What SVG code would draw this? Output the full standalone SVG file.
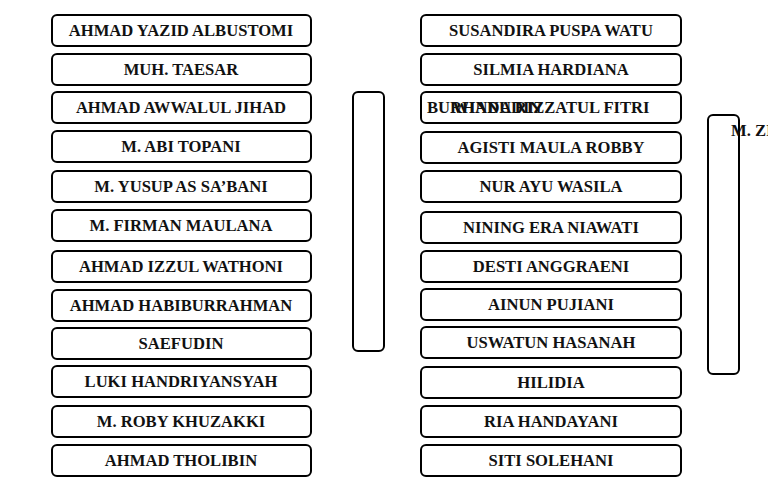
<svg xmlns="http://www.w3.org/2000/svg" width="768" height="503" viewBox="0 0 768 503">
<style>
.b{fill:#fff;stroke:#000;stroke-width:2}
.t{font-family:"Liberation Serif","Times New Roman",serif;font-weight:bold;font-size:16.6px;fill:#111;text-anchor:middle}
.l{text-anchor:start}
</style>
<rect width="768" height="503" fill="#fff"/>
<g id="left">
<g id="n1"><rect class="b" x="52" y="15" width="259" height="31" rx="5"/><text class="t" x="181" y="36">AHMAD YAZID ALBUSTOMI</text></g>
<g id="n2"><rect class="b" x="52" y="54" width="259" height="31" rx="5"/><text class="t" x="181" y="75">MUH. TAESAR</text></g>
<g id="n3"><rect class="b" x="52" y="92" width="259" height="31" rx="5"/><text class="t" x="181" y="113">AHMAD AWWALUL JIHAD</text></g>
<g id="n4"><rect class="b" x="52" y="131" width="259" height="31" rx="5"/><text class="t" x="181" y="152">M. ABI TOPANI</text></g>
<g id="n5"><rect class="b" x="52" y="171" width="259" height="31" rx="5"/><text class="t" x="181" y="192">M. YUSUP AS SA’BANI</text></g>
<g id="n6"><rect class="b" x="52" y="210" width="259" height="31" rx="5"/><text class="t" x="181" y="231">M. FIRMAN MAULANA</text></g>
<g id="n7"><rect class="b" x="52" y="251" width="259" height="31" rx="5"/><text class="t" x="181" y="272">AHMAD IZZUL WATHONI</text></g>
<g id="n8"><rect class="b" x="52" y="290" width="259" height="31" rx="5"/><text class="t" x="181" y="311">AHMAD HABIBURRAHMAN</text></g>
<g id="n9"><rect class="b" x="52" y="328" width="259" height="31" rx="5"/><text class="t" x="181" y="349">SAEFUDIN</text></g>
<g id="n10"><rect class="b" x="52" y="366" width="259" height="31" rx="5"/><text class="t" x="181" y="387">LUKI HANDRIYANSYAH</text></g>
<g id="n11"><rect class="b" x="52" y="406" width="259" height="31" rx="5"/><text class="t" x="181" y="427">M. ROBY KHUZAKKI</text></g>
<g id="n12"><rect class="b" x="52" y="445" width="259" height="31" rx="5"/><text class="t" x="181" y="466">AHMAD THOLIBIN</text></g>
</g>
<g id="vbox1"><rect class="b" x="353" y="92" width="31" height="259" rx="5"/></g>
<g id="right">
<g id="r1"><rect class="b" x="421" y="15" width="260" height="31" rx="5"/><text class="t" x="551" y="36">SUSANDIRA PUSPA WATU</text></g>
<g id="r2"><rect class="b" x="421" y="54" width="260" height="31" rx="5"/><text class="t" x="551" y="75">SILMIA HARDIANA</text></g>
<g id="r3"><rect class="b" x="421" y="92" width="260" height="31" rx="5"/><text class="t" x="551" y="113">WINDA RIZZATUL FITRI</text><text class="t l" x="427" y="113">BURHANUDIN</text></g>
<g id="r4"><rect class="b" x="421" y="132" width="260" height="31" rx="5"/><text class="t" x="551" y="153">AGISTI MAULA ROBBY</text></g>
<g id="r5"><rect class="b" x="421" y="171" width="260" height="31" rx="5"/><text class="t" x="551" y="192">NUR AYU WASILA</text></g>
<g id="r6"><rect class="b" x="421" y="212" width="260" height="31" rx="5"/><text class="t" x="551" y="233">NINING ERA NIAWATI</text></g>
<g id="r7"><rect class="b" x="421" y="251" width="260" height="31" rx="5"/><text class="t" x="551" y="272">DESTI ANGGRAENI</text></g>
<g id="r8"><rect class="b" x="421" y="289" width="260" height="31" rx="5"/><text class="t" x="551" y="310">AINUN PUJIANI</text></g>
<g id="r9"><rect class="b" x="421" y="327" width="260" height="31" rx="5"/><text class="t" x="551" y="348">USWATUN HASANAH</text></g>
<g id="r10"><rect class="b" x="421" y="367" width="260" height="31" rx="5"/><text class="t" x="551" y="388">HILIDIA</text></g>
<g id="r11"><rect class="b" x="421" y="406" width="260" height="31" rx="5"/><text class="t" x="551" y="427">RIA HANDAYANI</text></g>
<g id="r12"><rect class="b" x="421" y="445" width="260" height="31" rx="5"/><text class="t" x="551" y="466">SITI SOLEHANI</text></g>
</g>
<g id="vbox2"><rect class="b" x="708" y="115" width="31" height="259" rx="5"/><text class="t l" x="731" y="136">M. ZI</text></g>
<g id="connectors"/>
</svg>
